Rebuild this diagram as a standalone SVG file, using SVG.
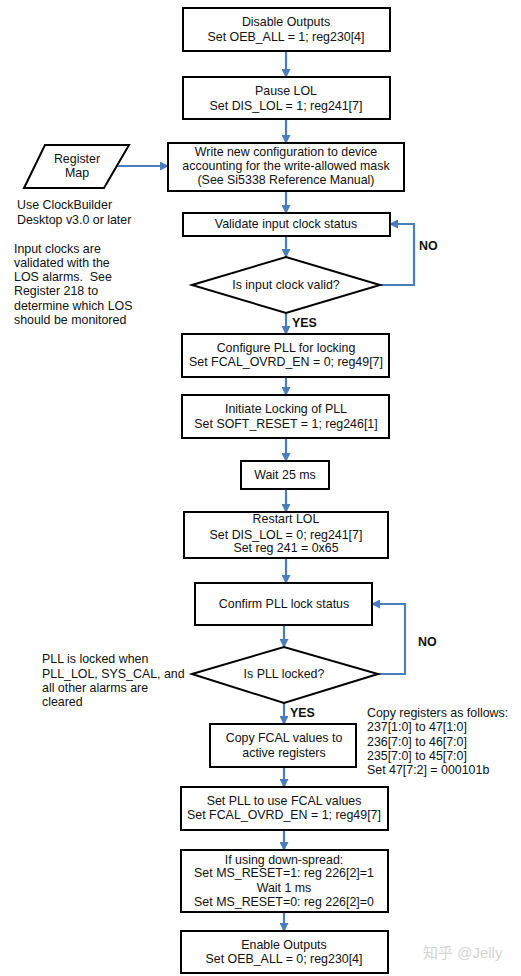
<svg xmlns="http://www.w3.org/2000/svg" width="521" height="976" viewBox="0 0 521 976">
<defs>
<marker id="ah" markerWidth="9" markerHeight="9" refX="8" refY="4.5" orient="auto" markerUnits="userSpaceOnUse">
<path d="M0,0 L9,4.5 L0,9 Z" fill="#4a7ebb"/>
</marker>
<style>
.box{fill:#fff;stroke:#000;stroke-width:2}
.t{font-family:"Liberation Sans",Arial,sans-serif;font-size:12.4px;fill:#111;text-anchor:middle}
.l{font-family:"Liberation Sans",Arial,sans-serif;font-size:12.4px;fill:#111;white-space:pre}
.b{font-family:"Liberation Sans",Arial,sans-serif;font-size:12.4px;font-weight:bold;fill:#111}
.c{fill:none;stroke:#4a7ebb;stroke-width:2.2;marker-end:url(#ah)}
</style>
</defs>
<rect width="521" height="976" fill="#fff"/>
<g id="connectors">
<path class="c" d="M286,51 V77"/>
<path class="c" d="M286,119 V143"/>
<path class="c" d="M117,166 H168"/>
<path class="c" d="M286,191 V213"/>
<path class="c" d="M286,236 V257"/>
<path class="c" d="M380,285 H414 V224 H390"/>
<path class="c" d="M286,313 V334"/>
<path class="c" d="M286,377 V395"/>
<path class="c" d="M286,438 V461"/>
<path class="c" d="M286,489 V512"/>
<path class="c" d="M286,558 V583"/>
<path class="c" d="M284,625 V647"/>
<path class="c" d="M378,674 H405 V604 H372"/>
<path class="c" d="M284,703 V724"/>
<path class="c" d="M284,767 V787"/>
<path class="c" d="M284,830 V850"/>
<path class="c" d="M284,912 V931"/>
<text class="b" x="419" y="250">NO</text>
<text class="b" x="292" y="327">YES</text>
<text class="b" x="418" y="646">NO</text>
<text class="b" x="290" y="717">YES</text>
</g>
<g id="n1"><rect class="box" x="183" y="8" width="207" height="43"/><text class="t" x="286" y="26">Disable Outputs</text><text class="t" x="286" y="41">Set OEB_ALL = 1; reg230[4]</text></g>
<g id="n2"><rect class="box" x="183" y="77" width="207" height="42"/><text class="t" x="286" y="95">Pause LOL</text><text class="t" x="286" y="110">Set DIS_LOL = 1; reg241[7]</text></g>
<g id="n3"><rect class="box" x="168" y="143" width="236" height="48"/><text class="t" x="286" y="156">Write new configuration to device</text><text class="t" x="286" y="170">accounting for the write-allowed mask</text><text class="t" x="286" y="184">(See Si5338 Reference Manual)</text></g>
<g id="regmap"><polygon points="45,145 129,145 104,188 24,188" fill="#fff" stroke="#000" stroke-width="2"/><text class="t" x="77" y="163">Register</text><text class="t" x="77" y="177">Map</text></g>
<g id="note1"><text class="l" x="17" y="209">Use ClockBuilder</text><text class="l" x="17" y="224">Desktop v3.0 or later</text></g>
<g id="n4"><rect class="box" x="183" y="213" width="207" height="23"/><text class="t" x="286" y="228">Validate input clock status</text></g>
<g id="d1"><polygon points="192,285 286,257 380,285 286,313" fill="#fff" stroke="#000" stroke-width="2"/><text class="t" x="286" y="289">Is input clock valid?</text></g>
<g id="note2"><text class="l" x="14" y="253">Input clocks are</text><text class="l" x="14" y="267">validated with the</text><text class="l" x="14" y="281" xml:space="preserve">LOS alarms.  See</text><text class="l" x="14" y="295">Register 218 to</text><text class="l" x="14" y="310">determine which LOS</text><text class="l" x="14" y="324">should be monitored</text></g>
<g id="n5"><rect class="box" x="182" y="334" width="207" height="43"/><text class="t" x="286" y="352">Configure PLL for locking</text><text class="t" x="286" y="366">Set FCAL_OVRD_EN = 0; reg49[7]</text></g>
<g id="n6"><rect class="box" x="182" y="395" width="207" height="43"/><text class="t" x="286" y="413">Initiate Locking of PLL</text><text class="t" x="286" y="428">Set SOFT_RESET = 1; reg246[1]</text></g>
<g id="n7"><rect class="box" x="241" y="461" width="88" height="28"/><text class="t" x="285" y="479">Wait 25 ms</text></g>
<g id="n8"><rect class="box" x="184" y="512" width="204" height="46"/><text class="t" x="286" y="523">Restart LOL</text><text class="t" x="286" y="539">Set DIS_LOL = 0; reg241[7]</text><text class="t" x="286" y="552">Set reg 241 = 0x65</text></g>
<g id="n9"><rect class="box" x="195" y="583" width="177" height="42"/><text class="t" x="284" y="608">Confirm PLL lock status</text></g>
<g id="d2"><polygon points="192,674 284,647 378,674 284,703" fill="#fff" stroke="#000" stroke-width="2"/><text class="t" x="284" y="678">Is PLL locked?</text></g>
<g id="note3"><text class="l" x="42" y="663">PLL is locked when</text><text class="l" x="42" y="678">PLL_LOL, SYS_CAL, and</text><text class="l" x="42" y="692">all other alarms are</text><text class="l" x="42" y="706">cleared</text></g>
<g id="n10"><rect class="box" x="210" y="724" width="146" height="43"/><text class="t" x="284" y="742">Copy FCAL values to</text><text class="t" x="284" y="757">active registers</text></g>
<g id="note4"><text class="l" x="367" y="717">Copy registers as follows:</text><text class="l" x="367" y="731">237[1:0] to 47[1:0]</text><text class="l" x="367" y="746">236[7:0] to 46[7:0]</text><text class="l" x="367" y="760">235[7:0] to 45[7:0]</text><text class="l" x="367" y="774">Set 47[7:2] = 000101b</text></g>
<g id="n11"><rect class="box" x="181" y="787" width="207" height="43"/><text class="t" x="284" y="805">Set PLL to use FCAL values</text><text class="t" x="284" y="819">Set FCAL_OVRD_EN = 1; reg49[7]</text></g>
<g id="n12"><rect class="box" x="181" y="850" width="207" height="62"/><text class="t" x="284" y="864">If using down-spread:</text><text class="t" x="284" y="877">Set MS_RESET=1: reg 226[2]=1</text><text class="t" x="284" y="892">Wait 1 ms</text><text class="t" x="284" y="906">Set MS_RESET=0: reg 226[2]=0</text></g>
<g id="n13"><rect class="box" x="181" y="931" width="207" height="42"/><text class="t" x="284" y="949">Enable Outputs</text><text class="t" x="284" y="963">Set OEB_ALL = 0; reg230[4]</text></g>
<text x="423" y="958" font-family="'Liberation Sans','Noto Sans CJK SC',sans-serif" font-size="15" fill="#d4d4d4">知乎 @Jelly</text>
</svg>
